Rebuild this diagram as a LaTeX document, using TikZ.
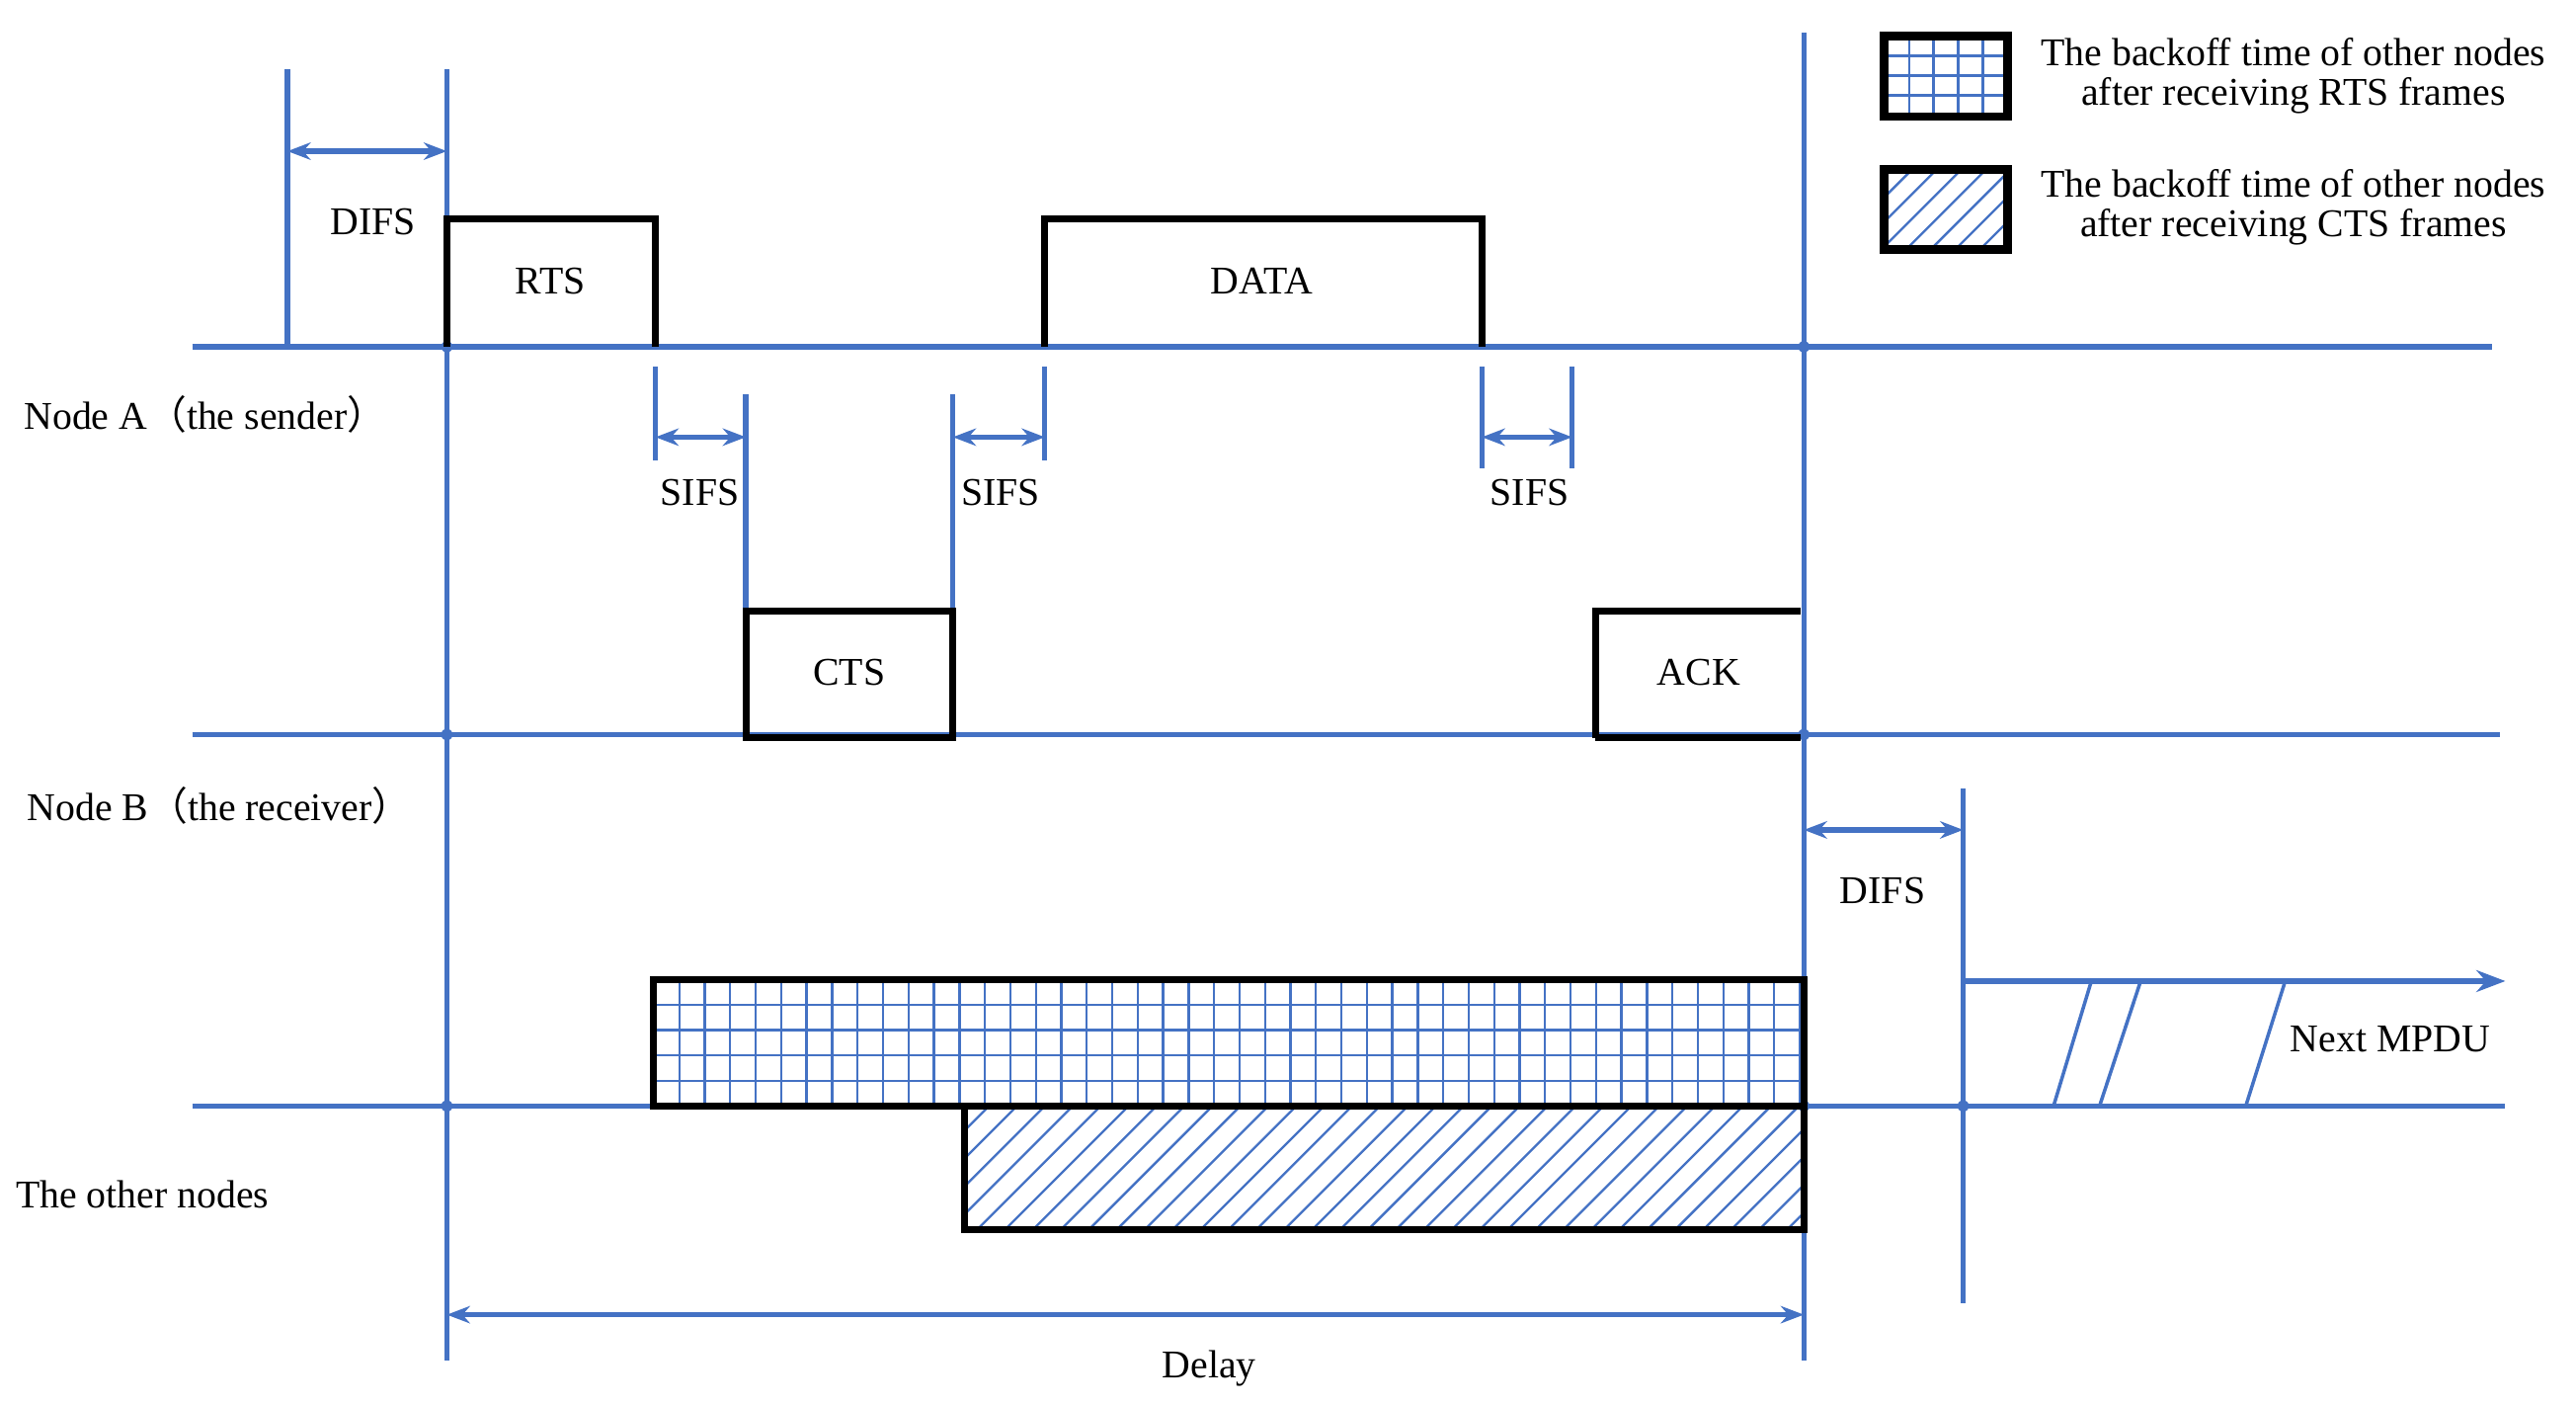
\documentclass[tikz,border=0pt]{standalone}
\usepackage{fontspec}
\setmainfont{Liberation Serif}
\newfontfamily\cjk{Noto Sans CJK SC}
\usetikzlibrary{arrows.meta}
\definecolor{lblue}{RGB}{68,114,196}
\begin{document}
\begin{tikzpicture}[x=0.01cm,y=-0.01cm,
  tl/.style={lblue, line width=0.9pt},
  frame/.style={black, line width=1.2pt},
  dim/.style={lblue, line width=0.9pt, {Stealth[length=4pt]}-{Stealth[length=4pt]}},
  hat/.style={lblue, line width=0.4pt},
  lbl/.style={font=\fontsize{6.8}{7.8}\selectfont, inner sep=0pt}]
\useasboundingbox (0,0) rectangle (1568,855);

% time lines
\draw[tl] (117,211) -- (1517,211);
\draw[tl] (117,447) -- (1522,447);
\draw[tl] (117,673) -- (1525,673);
\draw[tl, -{Stealth[length=5pt]}] (1196,597) -- (1525,597);

% verticals
\draw[tl] (175,42) -- (175,211);
\draw[tl] (272,42) -- (272,828);
\draw[tl] (1098,20) -- (1098,828);
\draw[tl] (1195,480) -- (1195,793);
\draw[tl] (399,223) -- (399,280);
\draw[tl] (454,240) -- (454,372);
\draw[tl] (580,240) -- (580,372);
\draw[tl] (636,223) -- (636,280);
\draw[tl] (902,223) -- (902,285);
\draw[tl] (957,223) -- (957,285);
\foreach \p in {(272,211),(1098,211),(272,447),(1098,447),(272,673),(1098,673),(1195,673)}
  \fill[lblue] \p circle (3.5);

% dimension arrows
\draw[dim] (175,92) -- (272,92);
\draw[dim] (399,266) -- (454,266);
\draw[dim] (580,266) -- (636,266);
\draw[dim] (902,266) -- (957,266);
\draw[dim] (1098,505) -- (1195,505);
\draw[dim] (272,800) -- (1098,800);

% backoff boxes
\begin{scope}
  \clip (398,596) rectangle (1098,673);
  \foreach \x in {398,413.5,...,1100} \draw[hat] (\x,596) -- (\x,673);
  \foreach \y in {596,611.4,...,675} \draw[hat] (398,\y) -- (1098,\y);
\end{scope}
\draw[frame] (398,596) rectangle (1098,673);
\begin{scope}
  \clip (587,673) rectangle (1098,748);
  \foreach \i in {0,17,...,600} \draw[hat] (510+\i,748) -- ++(75,-75);
\end{scope}
\draw[frame] (587,673) rectangle (1098,748);

% frames
\draw[frame] (272,211) |- (399,133) -- (399,211);
\draw[frame] (636,211) |- (902,133) -- (902,211);
\draw[frame] (454,372) rectangle (580,449);
\draw[frame] (971,449) |- (1096,372);
\draw[frame] (971,449) -- (1096,449);

% next MPDU slashes
\draw[tl, line width=0.6pt] (1250,673) -- (1273,597);
\draw[tl, line width=0.6pt] (1278,673) -- (1303,597);
\draw[tl, line width=0.6pt] (1367,673) -- (1391,597);

% legend
\begin{scope}
  \clip (1147,22) rectangle (1222,71);
  \foreach \x in {1147,1162,...,1224} \draw[hat] (\x,22) -- (\x,71);
  \foreach \y in {22,34,...,72} \draw[hat] (1147,\y) -- (1222,\y);
\end{scope}
\draw[frame, line width=1.5pt] (1147,22) rectangle (1222,71);
\begin{scope}
  \clip (1147,103) rectangle (1222,152);
  \foreach \i in {0,15,...,140} \draw[hat] (1100+\i,152) -- ++(49,-49);
\end{scope}
\draw[frame, line width=1.5pt] (1147,103) rectangle (1222,152);

% labels
\node[lbl] (difsa) at (227,135) {DIFS};
\node[lbl] (rts) at (335,171) {RTS};
\node[lbl] (data) at (768,171) {DATA};
\node[lbl] (cts) at (517,409) {CTS};
\node[lbl] (ack) at (1034,409) {ACK};
\node[lbl] (s1) at (426,300) {SIFS};
\node[lbl] (s2) at (609,300) {SIFS};
\node[lbl] (s3) at (931,300) {SIFS};
\node[lbl] (difsb) at (1146,542) {DIFS};
\node[lbl] (mpdu) at (1455,632) {Next MPDU};
\node[lbl] (delay) at (736,833) {Delay};
\node[lbl, anchor=west] (na) at (14,252) {Node A{\cjk （}the sender{\cjk ）}};
\node[lbl, anchor=west] (nb) at (16,490) {Node B{\cjk （}the receiver{\cjk ）}};
\node[lbl, anchor=west] (no) at (9,727) {The other nodes};
\node[lbl, align=center] (l1) at (1396,46) {The backoff time of other nodes\\[-1pt]after receiving RTS frames};
\node[lbl, align=center] (l2) at (1396,126) {The backoff time of other nodes\\[-1pt]after receiving CTS frames};
\end{tikzpicture}
\end{document}
